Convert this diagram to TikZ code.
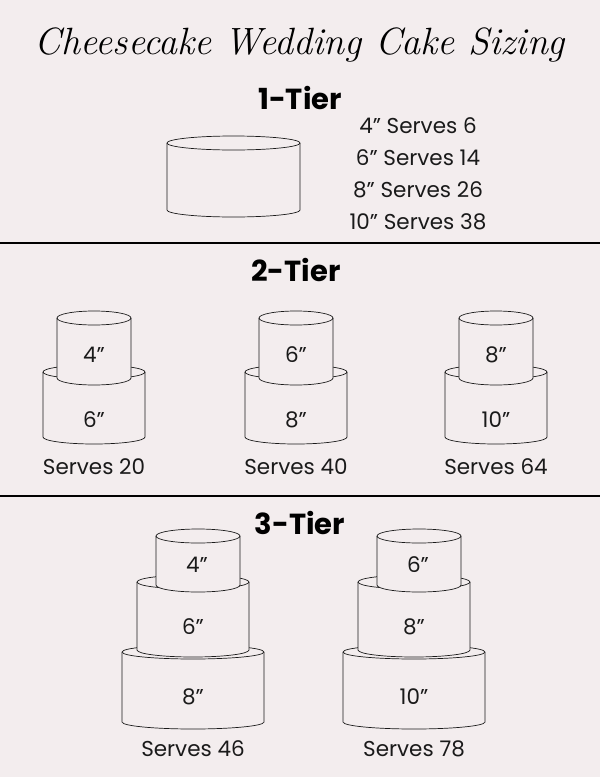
\documentclass[tikz,border=0pt]{standalone}
\usepackage{fontspec}
\setmainfont{Poppins}
\newfontfamily\titlefont{Latin Modern Roman}
\definecolor{bgpink}{HTML}{F3EDEE}
\definecolor{ink}{HTML}{1A1A1A}
\newcommand\inch{\char34}
\tikzset{
    tierhead/.style={font=\bfseries\fontsize{29}{32}\selectfont,text=black},
    sizelbl/.style={font=\fontsize{21.5}{24}\selectfont,text=ink},
    cakeline/.style={draw=ink,line width=0.7pt,fill=bgpink}
}
% \cake{left}{right}{top}{bottom}
\newcommand\cake[4]{%
    \path[cakeline] (#1,#3) -- (#1,#4)
        arc[start angle=180,end angle=0,x radius={((#2)-(#1))/2},y radius=7]
        -- (#2,#3)
        arc[start angle=360,end angle=180,x radius={((#2)-(#1))/2},y radius=7] -- cycle;
    \draw[ink,line width=0.7pt] (#1,#3) arc[start angle=180,end angle=0,x radius={((#2)-(#1))/2},y radius=7];
}
\begin{document}
\begin{tikzpicture}[x=1pt,y=-1pt]
    \fill[bgpink] (0,0) rectangle (600,777);
    \useasboundingbox (0,0) rectangle (600,777);
    \node[font=\titlefont\itshape\fontsize{38}{42}\selectfont] (title) at (300,45) {Cheesecake Wedding Cake Sizing};
    % 1-tier
    \node[tierhead] (head1) at (300,98) {1-Tier};
    \cake{167}{300}{143}{210}
    \foreach \s/\y [count=\i] in {4\inch{} Serves 6/126,6\inch{} Serves 14/158,8\inch{} Serves 26/190,10\inch{} Serves 38/222}
        \node[sizelbl] (one\i) at (418,\y) {\s};
    \draw[black,line width=1.5pt] (0,243) coordinate (sepA) -- (600,243) coordinate (sepB);
    % 2-tier
    \node[tierhead] (head2) at (296,270) {2-Tier};
    \foreach \cx/\a/\b/\n in {94/4/6/20,296/6/8/40,496/8/10/64} {
        \cake{\cx-51}{\cx+51}{372}{437}
        \cake{\cx-37}{\cx+37}{318}{378}
        \node[sizelbl] at (\cx,355) {\a\inch};
        \node[sizelbl] at (\cx,420) {\b\inch};
        \node[sizelbl] at (\cx,467) {Serves \n};
    }
    \draw[black,line width=1.5pt] (0,496) coordinate (sepC) -- (600,496) coordinate (sepD);
    % 3-tier
    \node[tierhead] (head3) at (300,523) {3-Tier};
    \foreach \cx/\a/\b/\c/\n in {193/4/6/8/46,414/6/8/10/78} {
        \cake{\cx-71}{\cx+71}{652}{722}
        \cake{\cx-56}{\cx+56}{582}{650}
        \cake{\cx-42+5}{\cx+42+5}{536}{585}
        \node[sizelbl] at (\cx+4,565) {\a\inch};
        \node[sizelbl] at (\cx,627) {\b\inch};
        \node[sizelbl] at (\cx,697) {\c\inch};
        \node[sizelbl] at (\cx,749) {Serves \n};
    }
\end{tikzpicture}
\end{document}
